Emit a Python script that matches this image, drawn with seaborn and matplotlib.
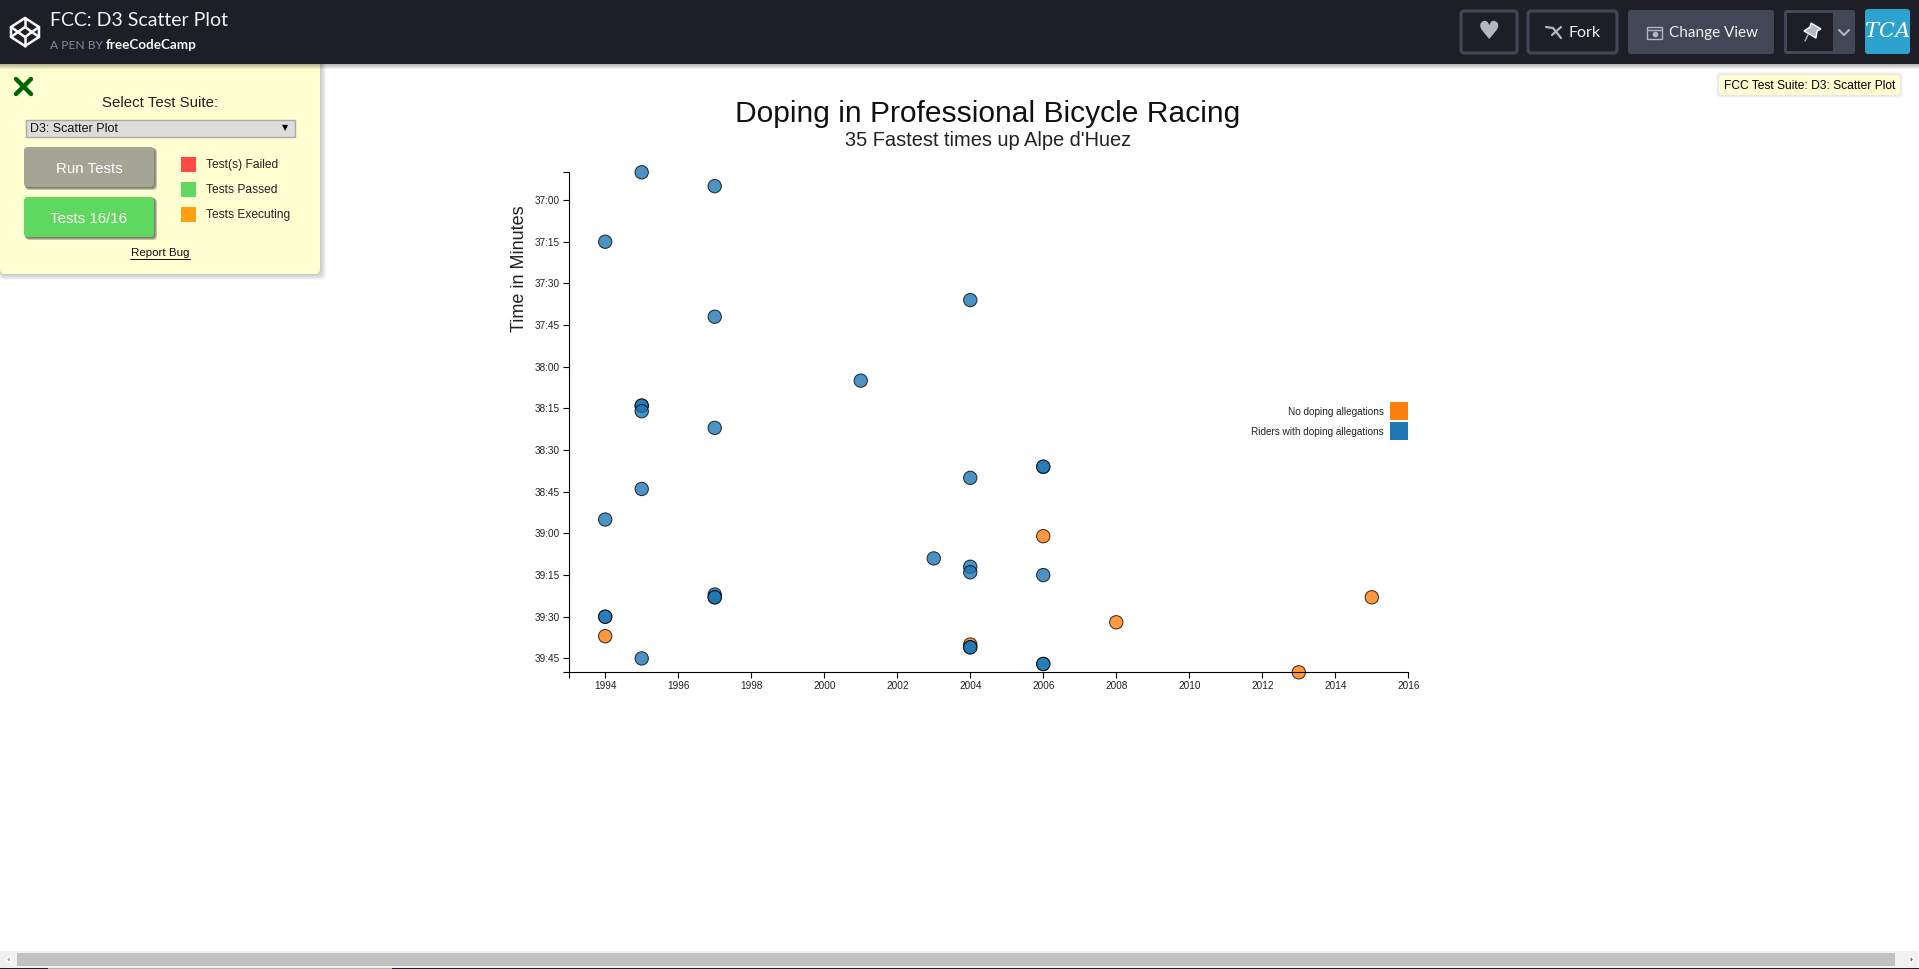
import matplotlib
matplotlib.use("Agg")
import matplotlib.pyplot as plt
import pandas as pd
import seaborn as sns
from matplotlib.patches import Rectangle, FancyBboxPatch, Polygon

# data
years = [1995, 1997, 1994, 2004, 1997, 2001, 1995, 1995, 1995, 1997, 2006, 2006,
         2004, 1995, 1994, 2006, 2003, 2004, 2004, 2006, 1997, 1997, 1997, 2015,
         1994, 1994, 2008, 1994, 2004, 2004, 2004, 1995, 2006, 2006, 2013]
times = ["36:50", "36:55", "37:15", "37:36", "37:42", "38:05", "38:14", "38:14", "38:16",
         "38:22", "38:36", "38:36", "38:40", "38:44", "38:55", "39:01", "39:09", "39:12",
         "39:14", "39:15", "39:22", "39:23", "39:23", "39:23", "39:30", "39:30", "39:32",
         "39:37", "39:40", "39:41", "39:41", "39:45", "39:47", "39:47", "39:50"]
doping = [1, 1, 1, 1, 1, 1, 1, 1, 1, 1, 1, 1, 1, 1, 1, 0, 1, 1, 1, 1, 1, 1, 1, 0,
          1, 1, 0, 0, 0, 1, 1, 1, 1, 1, 0]
year_ticks = list(range(1994, 2017, 2))
time_ticks = ["37:00", "37:15", "37:30", "37:45", "38:00", "38:15", "38:30",
              "38:45", "39:00", "39:15", "39:30", "39:45"]


def secs(t):
    m, s = t.split(":")
    return int(m) * 60 + int(s)


df = pd.DataFrame({"year": years, "sec": [secs(t) for t in times], "doping": doping})

sns.set_theme(style="white")
plt.rcParams["font.family"] = ["Liberation Sans", "DejaVu Sans"]

W, H = 1919, 969
fig = plt.figure(figsize=(W / 100, H / 100), dpi=100, facecolor="white")

# page layer in pixel coordinates
pg = fig.add_axes([0, 0, 1, 1])
pg.set_xlim(0, W)
pg.set_ylim(H, 0)
pg.axis("off")


def px(n):
    return n * 0.72


def box(x0, y0, x1, y1, color, r=0, ec="none", lw=0, z=2, alpha=1):
    if r:
        p = FancyBboxPatch((x0 + r, y0 + r), x1 - x0 - 2 * r, y1 - y0 - 2 * r,
                           boxstyle=f"round,pad={r}", fc=color, ec=ec, lw=lw, zorder=z, alpha=alpha)
    else:
        p = Rectangle((x0, y0), x1 - x0, y1 - y0, fc=color, ec=ec, lw=lw, zorder=z, alpha=alpha)
    pg.add_patch(p)


def label(x, y, s, size, color="black", ha="left"):
    pg.text(x, y + size * 0.1, s, fontsize=px(size), color=color, ha=ha, va="center", zorder=9)


def lato(x, y, s, size, color, **kw):
    pg.text(x, y, s, fontsize=px(size), color=color, family="Lato", va="center", zorder=9, **kw)


# test panel with soft shadow
for i in range(1, 7):
    box(0, 60, 320 + i, 274 + i, "black", r=5, z=1, alpha=0.035)
box(0, 60, 320, 274, "#ffffd2", r=5, z=2)

# header bar
for i in range(1, 6):
    box(0, 64, W, 64 + i, "black", z=3, alpha=0.06)
box(0, 0, W, 64, "#1d1e26", z=4)

lato(50, 20, "FCC: D3 Scatter Plot", 19.5, "#f2f2f4")
lato(50, 45, "A PEN BY", 12, "#868ca0")
lato(106, 44.5, "freeCodeCamp", 13.5, "#f5f5f5", weight="bold")

# codepen cube
cube = [[(25, 18), (11, 27), (11, 37), (25, 46), (39, 37), (39, 27), (25, 18)],
        [(11, 27), (25, 37), (39, 27)], [(11, 37), (25, 27), (39, 37)],
        [(25, 18), (25, 27)], [(25, 37), (25, 46)]]
for seg in cube:
    pg.plot(*zip(*seg), color="white", lw=1.8, zorder=9, solid_joinstyle="round")

# header buttons
edge = "#434656"
icon = "#b4b6c2"
box(1461, 11, 1517, 53, "#1d1e26", r=3, ec=edge, lw=2.2, z=5)
box(1528, 11, 1617, 53, "#1d1e26", r=3, ec=edge, lw=2.2, z=5)
box(1628, 10, 1774, 54, edge, r=3, z=5)
box(1784, 10, 1855, 54, edge, r=3, z=5)
box(1787, 13, 1833, 51, "#1d1e26", z=6)
box(1865, 9, 1910, 54, "#2ca3ce", r=3, z=5)
pg.text(1489, 32, "\u2665", fontsize=px(25), color=icon, family="DejaVu Sans", ha="center", va="center", zorder=9)
pg.plot([1546, 1553, 1561], [27, 28, 38], color=icon, lw=1.6, zorder=9)
pg.plot([1552, 1561], [35, 27], color=icon, lw=1.6, zorder=9)
lato(1569, 33, "Fork", 16, "#f2f2f4")
box(1647, 27, 1662, 39, "none", ec=icon, lw=1, z=9)
pg.plot([1647, 1662], [30, 30], color=icon, lw=1, zorder=9)
pg.plot([1654.5], [34], "o", ms=3, color=icon, zorder=9)
lato(1669, 33, "Change View", 15.2, "#f2f2f4")
pg.add_patch(Polygon([(1811, 23), (1821, 29), (1817, 31), (1816, 38), (1804, 31), (1810, 27)], fc=icon, zorder=9))
pg.plot([1808, 1805], [35, 41], color=icon, lw=1, zorder=9)
pg.plot([1839, 1844, 1849], [30, 35, 30], color=icon, lw=1.5, zorder=9)
pg.text(1887.5, 31, "TCA", fontsize=px(21), color="white", family="DejaVu Serif", style="italic",
        ha="center", va="center", zorder=9)

# tooltip
for i in range(1, 4):
    box(1719 - i, 75 - i, 1900 + i, 95 + i, "black", r=4, z=1, alpha=0.03)
box(1719, 75, 1900, 95, "#ffffd2", r=4, z=2)
label(1724, 85, "FCC Test Suite: D3: Scatter Plot", 12)

# panel contents
pg.plot([16, 31], [79, 94], color="#006400", lw=3.2, zorder=9)
pg.plot([31, 16], [79, 94], color="#006400", lw=3.2, zorder=9)
label(160, 101.5, "Select Test Suite:", 15, "#222222", ha="center")
box(25.5, 119.5, 294.5, 136.5, "#dcdcdc", ec="#a9a9a9", lw=1, z=5)
label(30, 127.5, "D3: Scatter Plot", 12.5, "#111111")
pg.text(285, 127.5, "\u25bc", fontsize=px(8), color="black", family="DejaVu Sans", ha="center", va="center", zorder=9)
for y0, y1, c, s in [(147, 187, "#a5a595", "Run Tests"), (197, 237, "#5fd85f", "Tests 16/16")]:
    for i in range(1, 4):
        box(24 + i * 0.5, y0 + i * 0.5, 154 + i, y1 + i, "#333333", r=4, z=4, alpha=0.28)
    box(24, y0, 154, y1, c, r=4, z=5)
    label(89, (y0 + y1) / 2, s, 15, "white", ha="center")
for y0, c, s in [(157, "#ff4b44", "Test(s) Failed"), (182, "#5fd95f", "Tests Passed"), (207, "#ff9f14", "Tests Executing")]:
    box(181, y0, 196, y0 + 15, c, z=5)
    label(206, y0 + 6.5, s, 12, "#222222")
label(160, 251.5, "Report Bug", 11.5, "#111111", ha="center")
pg.plot([130, 190], [258.5, 258.5], color="#111111", lw=0.7, zorder=9)

# scrollbar
box(0, 951, 1918, 967.5, "#f1f1f1", z=2)
box(17, 953, 1895, 966, "#c1c1c1", z=3)
pg.add_patch(Polygon([(6, 959.5), (10.5, 956), (10.5, 963)], fc="#a3a3a3", zorder=4))
pg.add_patch(Polygon([(1914, 959.5), (1910, 956), (1910, 963)], fc="#505050", zorder=4))
box(0, 967.5, 48, 969, "#1d1e26", z=4)
box(48, 967.5, 392, 969, "#b0b0b0", z=4)
box(392, 967.5, W, 969, "#1d1e26", z=4)

# chart titles and legend
pg.text(988, 113.5, "Doping in Professional Bicycle Racing", fontsize=px(30), color="#111111", ha="center", va="center", zorder=9)
pg.text(988, 140, "35 Fastest times up Alpe d'Huez", fontsize=px(20), color="#222222", ha="center", va="center", zorder=9)
pg.text(519.5, 269, "Time in Minutes", fontsize=px(18), color="#222222", rotation=90, ha="center", va="center", zorder=9)
box(1390, 402, 1408, 420, "#ff7f0e", z=5)
box(1390, 422, 1408, 440, "#1f77b4", z=5)
pg.text(1384, 412, "No doping allegations", fontsize=px(10), color="#222222", ha="right", va="center", zorder=9)
pg.text(1384, 432, "Riders with doping allegations", fontsize=px(10), color="#222222", ha="right", va="center", zorder=9)

# scatter
ax = fig.add_axes([568.7 / W, 1 - 672.3 / H, 839.6 / W, 500 / H])
ax.patch.set_alpha(0)
sns.scatterplot(data=df, x="year", y="sec", hue="doping", palette={0: "#ff7f0e", 1: "#1f77b4"},
                s=92, alpha=0.8, edgecolor="black", linewidth=0.72, legend=False, clip_on=False, ax=ax)
ax.set_xlim(1993, 2016)
ax.set_ylim(secs("39:50"), secs("36:50"))
ax.set_xticks(year_ticks)
ax.set_xticklabels([str(y) for y in year_ticks])
ax.set_yticks([secs(t) for t in time_ticks])
ax.set_yticklabels(time_ticks)
ax.set_xticks([1993], minor=True)
ax.set_yticks([secs("36:50"), secs("39:50")], minor=True)
ax.set_xlabel("")
ax.set_ylabel("")
ax.tick_params(which="both", length=px(6), width=0.8, color="black", labelsize=px(10),
               labelcolor="#222222", pad=px(3), left=True, bottom=True)
for side in ["top", "right"]:
    ax.spines[side].set_visible(False)
for side in ["left", "bottom"]:
    ax.spines[side].set_color("black")
    ax.spines[side].set_linewidth(0.8)

fig.savefig("out.png", dpi=100)
